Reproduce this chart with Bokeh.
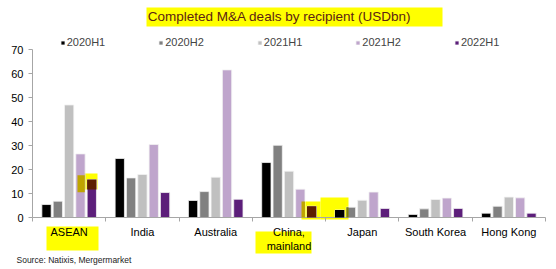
import numpy as np
from bokeh.plotting import figure
from bokeh.models import (Range1d, FixedTicker, ColumnDataSource, Legend, LegendItem,
                          Label, BoxAnnotation)
from bokeh.transform import dodge
from bokeh.embed import file_html
from bokeh.resources import INLINE

# ---------------- data ----------------
categories = ["ASEAN", "India", "Australia", "China,\nmainland", "Japan", "South Korea", "Hong Kong"]
series = ["2020H1", "2020H2", "2021H1", "2021H2", "2022H1"]
v2020H1 = [5.4, 24.6, 7.1, 22.9, 3.1, 1.3, 1.8]
v2020H2 = [6.8, 16.5, 10.8, 30.1, 4.3, 3.6, 4.7]
v2021H1 = [46.9, 17.9, 16.8, 19.3, 7.2, 7.5, 8.5]
v2021H2 = [26.5, 30.4, 61.5, 11.8, 10.6, 8.1, 8.2]
v2022H1 = [15.8, 10.4, 7.6, 4.7, 3.8, 3.8, 1.8]
yticks = [0, 10, 20, 30, 40, 50, 60, 70]
title_text = "Completed M&A deals by recipient (USDbn)"
source_text = "Source: Natixis, Mergermarket"

values = [v2020H1, v2020H2, v2021H1, v2021H2, v2022H1]
colors = ["#000000", "#808080", "#c0c0c0", "#bfa5cc", "#5c1e7a"]
YELLOW = "#ffff00"
FONT = "Liberation Sans"
AXIS_GRAY = "#a6a6a6"

# ---------------- layout ----------------
W, H = 556, 269
FL, FR, FT, FB = 32, 545, 49, 217   # axis box edges in px
NCAT = len(categories)
YMAX = 70


def dx(px):
    return (px - FL) / (FR - FL) * NCAT - 0.5


def dy(py):
    return (FB - py) / (FB - FT) * YMAX


BW = 0.127      # bar width (category units)
PITCH = 0.1545  # bar pitch

p = figure(width=W, height=H, x_range=Range1d(dx(0), dx(W)), y_range=Range1d(dy(H), dy(0)),
           output_backend="svg", toolbar_location=None, min_border=0)
p.background_fill_color = "white"
p.border_fill_color = "white"
p.outline_line_color = None
p.grid.visible = False

# highlights (drawn underneath)
def hl(l, r, t, b):
    p.add_layout(BoxAnnotation(left=dx(l), right=dx(r), top=dy(t), bottom=dy(b),
                               fill_color=YELLOW, fill_alpha=1, line_color=None, level="underlay"))

hl(146, 442, 7, 26)      # title
hl(46, 98, 226, 250)     # ASEAN label
hl(255, 311, 231, 253)   # China label
bar_hls = [(77, 84.3, 174.7, 191.7), (84.3, 97, 173, 189), (301, 320, 201, 219), (320, 348, 197, 219)]
for b in bar_hls:
    hl(*b)

src = ColumnDataSource(dict(x=np.arange(NCAT), **{s: v for s, v in zip(series, values)}))
items = []
for j, s in enumerate(series):
    r = p.vbar(x=dodge("x", (j - 2) * PITCH), top=s, width=BW, bottom=0, source=src,
               fill_color=colors[j], line_color="#f2f2f2", line_width=0.8)
    items.append(LegendItem(label=s, renderers=[r]))


def mult(c1, c2):
    a = [int(c1[i:i + 2], 16) for i in (1, 3, 5)]
    b = [int(c2[i:i + 2], 16) for i in (1, 3, 5)]
    return "#%02x%02x%02x" % tuple(x * y // 255 for x, y in zip(a, b))

# multiply-blend look where the highlight crosses bars
for (l, r, t, b) in bar_hls:
    L, R, T, B = dx(l), dx(r), dy(t), dy(b)
    for j, vals in enumerate(values):
        for i, v in enumerate(vals):
            bl = i + (j - 2) * PITCH - BW / 2
            br = bl + BW
            il, ir = max(L, bl), min(R, br)
            ib, it = max(B, 0), min(T, v)
            if ir > il and it > ib:
                p.add_layout(BoxAnnotation(left=il, right=ir, bottom=ib, top=it,
                                           fill_color=mult(colors[j], YELLOW), fill_alpha=1,
                                           line_color=None))

legend = Legend(items=items, orientation="horizontal", location=(59.7, H - 48),
                glyph_width=5, glyph_height=5, label_standoff=2, spacing=53,
                label_text_font=FONT, label_text_font_size="11px", label_height=12,
                padding=0, margin=0, border_line_color=None, background_fill_alpha=0)
p.add_layout(legend)

# axes
xa = p.xaxis[0]
xa.fixed_location = 0
xa.bounds = (-0.5, NCAT - 0.5)
xa.ticker = FixedTicker(ticks=list(range(NCAT)), minor_ticks=[i - 0.5 for i in range(NCAT + 1)])
xa.major_label_overrides = {i: c for i, c in enumerate(categories)}
xa.major_tick_line_color = None
xa.major_tick_out = 4
xa.minor_tick_out = 4
xa.minor_tick_in = 0
xa.minor_tick_line_color = AXIS_GRAY
xa.axis_line_color = AXIS_GRAY
xa.major_label_standoff = 4
xa.major_label_text_font = FONT
xa.major_label_text_font_size = "11px"
xa.major_label_text_color = "black"

ya = p.yaxis[0]
ya.fixed_location = -0.5
ya.bounds = (0, YMAX)
ya.ticker = FixedTicker(ticks=yticks)
ya.major_tick_out = 4
ya.major_tick_in = 0
ya.major_tick_line_color = AXIS_GRAY
ya.minor_tick_line_color = None
ya.axis_line_color = AXIS_GRAY
ya.major_label_standoff = 5
ya.major_label_text_font = FONT
ya.major_label_text_font_size = "11px"
ya.major_label_text_color = "black"

# texts
p.add_layout(Label(x=dx(279), y=dy(16), text=title_text, text_align="center", text_baseline="middle",
                   text_font=FONT, text_font_size="13.5px", text_color="#5c2314"))
p.add_layout(Label(x=dx(16), y=dy(259), text=source_text, text_align="left", text_baseline="middle",
                   text_font=FONT, text_font_size="8.5px", text_color="#222222"))

open("out.html", "w").write(file_html(p, INLINE))
